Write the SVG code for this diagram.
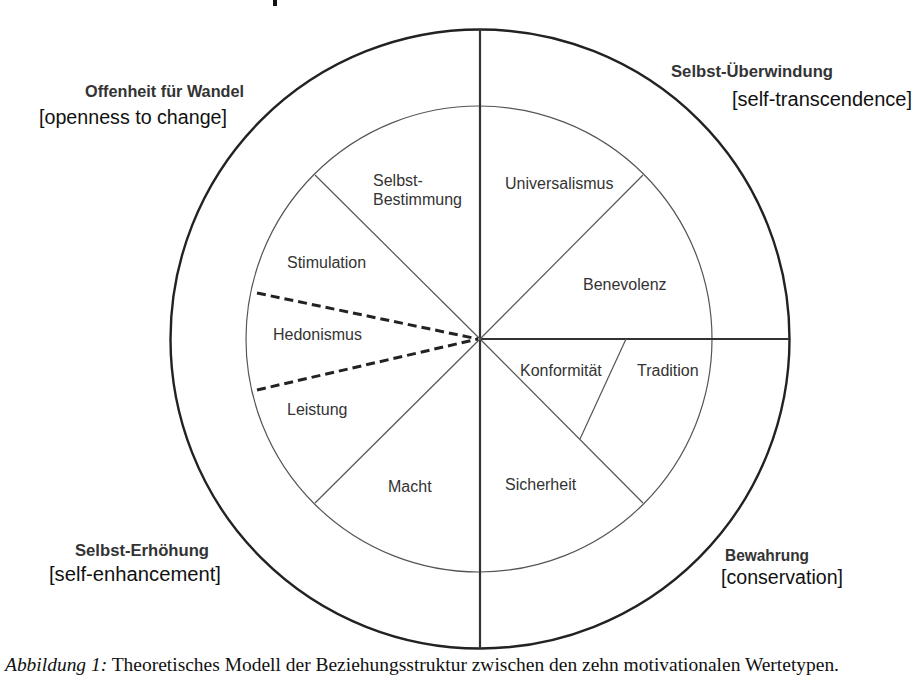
<svg xmlns="http://www.w3.org/2000/svg" width="913" height="687" viewBox="0 0 913 687">
<style>
.lbl{font-family:"Liberation Sans",Arial,sans-serif;font-size:16px;fill:#333}
.head{font-family:"Liberation Sans",Arial,sans-serif;font-size:16px;font-weight:bold;fill:#333}
.eng{font-family:"Liberation Sans",Arial,sans-serif;font-size:19.5px;fill:#111}
.cap{font-family:"Liberation Serif","Times New Roman",serif;font-size:19px;fill:#111}
.thin{stroke:#555;stroke-width:1.2;fill:none}
.thick{stroke:#333;stroke-width:2.2;fill:none}
.dash{stroke:#222;stroke-width:3;stroke-dasharray:9 5;fill:none}
</style>
<rect width="913" height="687" fill="#fff"/>
<rect x="273" y="0" width="4" height="6" fill="#111"/>
<g id="circles">
<circle cx="480" cy="339" r="309.5" stroke="#222" stroke-width="2.4" fill="none"/>
<circle cx="479" cy="339" r="233" class="thin"/>
</g>
<g id="connectors">
<line x1="480" y1="29" x2="480" y2="649" class="thick"/>
<line x1="480" y1="339" x2="789" y2="339" class="thick"/>
<line x1="480" y1="339" x2="315" y2="175" class="thin"/>
<line x1="480" y1="339" x2="643" y2="175" class="thin"/>
<line x1="480" y1="339" x2="315" y2="503" class="thin"/>
<line x1="480" y1="339" x2="643" y2="503" class="thin"/>
<line x1="626" y1="339" x2="580" y2="439" class="thin"/>
<line x1="257" y1="293" x2="478" y2="339" class="dash"/>
<line x1="257" y1="390" x2="478" y2="339" class="dash"/>
</g>
<g id="selbstbestimmung"><text class="lbl" x="373" y="186">Selbst-</text><text class="lbl" x="373" y="205">Bestimmung</text></g>
<g id="universalismus"><text class="lbl" x="505" y="189">Universalismus</text></g>
<g id="stimulation"><text class="lbl" x="287" y="268">Stimulation</text></g>
<g id="benevolenz"><text class="lbl" x="583" y="290">Benevolenz</text></g>
<g id="hedonismus"><text class="lbl" x="273" y="340">Hedonismus</text></g>
<g id="konformitaet"><text class="lbl" x="520" y="376">Konformität</text></g>
<g id="tradition"><text class="lbl" x="637" y="376">Tradition</text></g>
<g id="leistung"><text class="lbl" x="287" y="415">Leistung</text></g>
<g id="macht"><text class="lbl" x="388" y="492">Macht</text></g>
<g id="sicherheit"><text class="lbl" x="505" y="490">Sicherheit</text></g>
<g id="offenheit">
<text class="head" x="85" y="97" textLength="159" lengthAdjust="spacingAndGlyphs">Offenheit für Wandel</text>
<text class="eng" x="39" y="124" textLength="188" lengthAdjust="spacingAndGlyphs">[openness to change]</text>
</g>
<g id="selbstueberwindung">
<text class="head" x="671" y="77" textLength="162" lengthAdjust="spacingAndGlyphs">Selbst-Überwindung</text>
<text class="eng" x="732" y="106" textLength="180" lengthAdjust="spacingAndGlyphs">[self-transcendence]</text>
</g>
<g id="selbsterhoehung">
<text class="head" x="75" y="556" textLength="134" lengthAdjust="spacingAndGlyphs">Selbst-Erhöhung</text>
<text class="eng" x="49" y="581" textLength="172" lengthAdjust="spacingAndGlyphs">[self-enhancement]</text>
</g>
<g id="bewahrung">
<text class="head" x="725" y="561" textLength="84" lengthAdjust="spacingAndGlyphs">Bewahrung</text>
<text class="eng" x="721" y="584" textLength="122" lengthAdjust="spacingAndGlyphs">[conservation]</text>
</g>
<g id="caption">
<text class="cap" x="5" y="671" textLength="834" lengthAdjust="spacingAndGlyphs"><tspan font-style="italic">Abbildung 1:</tspan> Theoretisches Modell der Beziehungsstruktur zwischen den zehn motivationalen Wertetypen.</text>
</g>
</svg>
